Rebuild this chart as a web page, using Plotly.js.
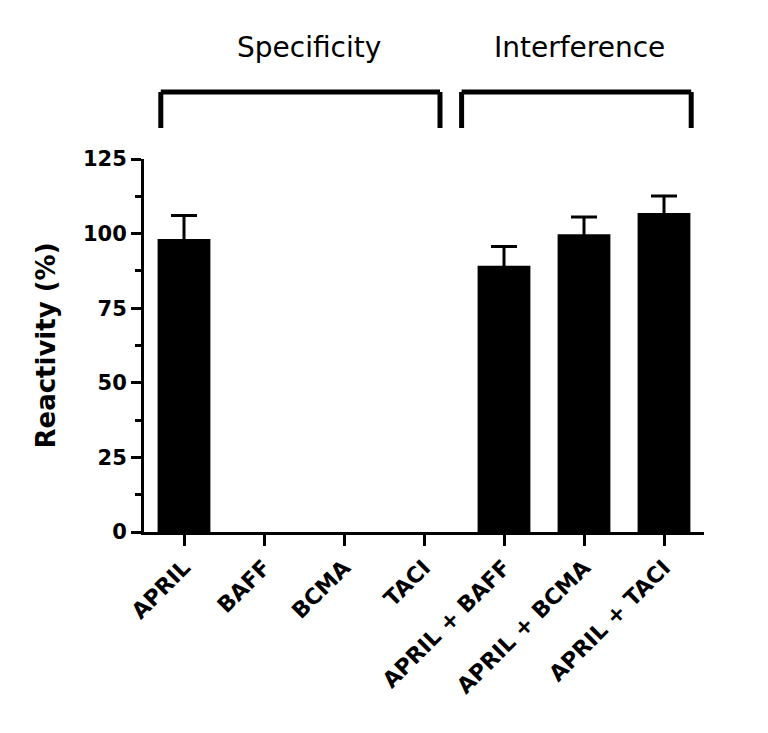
<!DOCTYPE html>
<html>
<head>
<meta charset="utf-8">
<script src="https://cdn.plot.ly/plotly-3.0.1.min.js"></script>
<style>html,body{margin:0;padding:0;background:#fff;}#chart{width:768px;height:733px;}</style>
</head>
<body>
<div id="chart"></div>
<script>
const categories = ["APRIL", "BAFF", "BCMA", "TACI", "APRIL + BAFF", "APRIL + BCMA", "APRIL + TACI"];
const reactivity = [98.2, null, null, null, 89.2, 99.8, 106.9];
const errorSD = [7.9, null, null, null, 6.5, 5.8, 5.7];
const groupLabels = ["Specificity", "Interference"];
const groupStart = [-0.29, 3.47];
const groupEnd = [3.2, 6.34];
const groupLabelX = [1.56, 4.94];
const yTicks = [0, 25, 50, 75, 100, 125];

const FONT = "DejaVu Sans, Arial, sans-serif";

const trace = {
  type: "bar",
  x: categories.map((c, i) => i),
  y: reactivity,
  marker: {color: "#000000", line: {width: 0}},
  error_y: {
    type: "data", symmetric: true, array: errorSD,
    color: "#000000", thickness: 3, width: 13,
    visible: true
  },
  hoverinfo: "skip"
};

const shapes = [];
const annotations = [];
const yTop = 1 + (159 - 92) / 373;
const yBot = 1 + (159 - 128) / 373;
groupLabels.forEach((g, k) => {
  const ln = {color: "#000000", width: 5};
  shapes.push({type: "line", xref: "x", yref: "paper", x0: groupStart[k], x1: groupEnd[k], y0: yTop, y1: yTop, line: ln});
  shapes.push({type: "line", xref: "x", yref: "paper", x0: groupStart[k], x1: groupStart[k], y0: yTop, y1: yBot, line: ln});
  shapes.push({type: "line", xref: "x", yref: "paper", x0: groupEnd[k], x1: groupEnd[k], y0: yTop, y1: yBot, line: ln});
  annotations.push({
    text: g, xref: "x", yref: "paper",
    x: groupLabelX[k], y: 1 + (159 - 47) / 373,
    showarrow: false, xanchor: "center", yanchor: "middle",
    font: {family: FONT, size: 28, color: "#000000"}
  });
});

const layout = {
  width: 768, height: 733,
  margin: {l: 144, r: 64, t: 159, b: 201},
  paper_bgcolor: "#ffffff", plot_bgcolor: "#ffffff",
  showlegend: false,
  bargap: 0.34,
  xaxis: {
    range: [-0.5, 6.5],
    tickmode: "array",
    tickvals: categories.map((c, i) => i),
    ticktext: categories,
    tickangle: -45,
    ticks: "outside", ticklen: 11, tickwidth: 3, tickcolor: "#000000",
    showline: true, linewidth: 3, linecolor: "#000000",
    showgrid: false, zeroline: false,
    tickfont: {family: FONT, size: 22, color: "#000000", weight: "bold"}
  },
  yaxis: {
    range: [0, 125],
    tickmode: "array", tickvals: yTicks,
    ticks: "outside", ticklen: 10, tickwidth: 3, tickcolor: "#000000",
    minor: {dtick: 12.5, tick0: 0, ticks: "outside", ticklen: 6, tickwidth: 3, tickcolor: "#000000", showgrid: false},
    showline: true, linewidth: 3, linecolor: "#000000",
    showgrid: false, zeroline: false,
    tickfont: {family: FONT, size: 21, color: "#000000", weight: "bold"},
    title: {text: "Reactivity (%)", standoff: 20, font: {family: FONT, size: 26, color: "#000000", weight: "bold"}}
  },
  shapes: shapes,
  annotations: annotations
};

Plotly.newPlot("chart", [trace], layout, {staticPlot: true, displayModeBar: false});
</script>
</body>
</html>
